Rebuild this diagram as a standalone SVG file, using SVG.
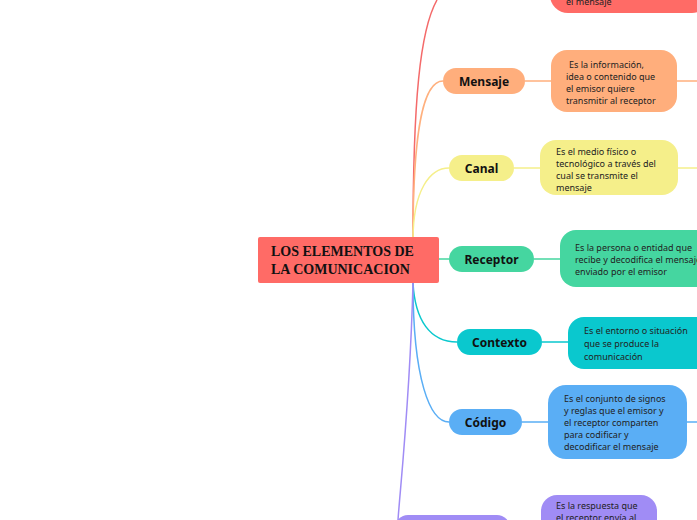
<svg xmlns="http://www.w3.org/2000/svg" width="697" height="520" viewBox="0 0 697 520">
<style>
.l{fill:none;stroke-width:1.5}
.p{font-family:"Noto Sans",sans-serif;font-size:12px;font-weight:bold;fill:#111;text-anchor:middle}
.d{font-family:"Noto Sans",sans-serif;font-size:9px;fill:#222}
</style>
<rect width="697" height="520" fill="#fff"/>
<g id="connectors">
<path class="l" stroke="#F46A6A" d="M413 240 C413 100 420 30 437 0"/>
<path class="l" stroke="#FFB07E" d="M413 240 C413 120 425 81 443 81 M525 81 H551 M677 81 H697"/>
<path class="l" stroke="#F5EF8A" d="M413 240 C413 190 430 168 449 168 M514 168 H540 M678 168 H697"/>
<path class="l" stroke="#45D6A0" d="M439 259 H449 M534 259 H560"/>
<path class="l" stroke="#0AC8CE" d="M413 283 C415 320 430 342 457 342 M542 342 H568"/>
<path class="l" stroke="#5AAEF5" d="M413 283 C413 380 430 422 449 422 M522 422 H548 M687 422 H697"/>
<path class="l" stroke="#A08CF5" d="M413 283 C410 400 400 490 398 520"/>
</g>
<g id="root">
<rect x="258" y="237" width="181" height="46" rx="2" fill="#FF6B66"/>
<text font-family="Liberation Serif,serif" font-weight="bold" font-size="14" fill="#111"><tspan x="271" y="256">LOS ELEMENTOS DE</tspan><tspan x="271" y="274">LA COMUNICACION</tspan></text>
</g>
<g id="emisor-desc">
<rect x="550" y="-40" width="160" height="53" rx="18" fill="#FF6B66"/>
<text class="d" x="566" y="5">el mensaje</text>
</g>
<g id="mensaje">
<rect x="443" y="68" width="82" height="26" rx="13" fill="#FFAE7C"/>
<text class="p" x="484" y="86">Mensaje</text>
</g>
<g id="mensaje-desc">
<rect x="551" y="50" width="126" height="62" rx="16" fill="#FFAE7C"/>
<text class="d"><tspan x="569" y="68">Es la información,</tspan><tspan x="566" y="80">idea o contenido que</tspan><tspan x="566" y="92">el emisor quiere</tspan><tspan x="566" y="104">transmitir al receptor</tspan></text>
</g>
<g id="canal">
<rect x="449" y="155" width="65" height="26" rx="13" fill="#F5EF8A"/>
<text class="p" x="481.5" y="173">Canal</text>
</g>
<g id="canal-desc">
<rect x="540" y="140" width="138" height="55" rx="16" fill="#F5EF8A"/>
<text class="d"><tspan x="556" y="155">Es el medio físico o</tspan><tspan x="556" y="167">tecnológico a través del</tspan><tspan x="556" y="179">cual se transmite el</tspan><tspan x="556" y="191">mensaje</tspan></text>
</g>
<g id="receptor">
<rect x="449" y="246" width="85" height="26" rx="13" fill="#45D6A0"/>
<text class="p" x="491.5" y="264">Receptor</text>
</g>
<g id="receptor-desc">
<rect x="560" y="230" width="160" height="57" rx="16" fill="#45D6A0"/>
<text class="d"><tspan x="575" y="251">Es la persona o entidad que</tspan><tspan x="575" y="263">recibe y decodifica el mensaje</tspan><tspan x="575" y="275">enviado por el emisor</tspan></text>
</g>
<g id="contexto">
<rect x="457" y="329" width="85" height="26" rx="13" fill="#0AC8CE"/>
<text class="p" x="499.5" y="347">Contexto</text>
</g>
<g id="contexto-desc">
<rect x="568" y="317" width="150" height="52" rx="16" fill="#0AC8CE"/>
<text class="d"><tspan x="584" y="334">Es el entorno o situación</tspan><tspan x="584" y="347">que se produce la</tspan><tspan x="584" y="360">comunicación</tspan></text>
</g>
<g id="codigo">
<rect x="449" y="409" width="73" height="26" rx="13" fill="#5AAEF5"/>
<text class="p" x="485.5" y="427">Código</text>
</g>
<g id="codigo-desc">
<rect x="548" y="385" width="139" height="74" rx="18" fill="#5AAEF5"/>
<text class="d"><tspan x="564" y="402">Es el conjunto de signos</tspan><tspan x="564" y="414">y reglas que el emisor y</tspan><tspan x="564" y="426">el receptor comparten</tspan><tspan x="564" y="438">para codificar y</tspan><tspan x="564" y="450">decodificar el mensaje</tspan></text>
</g>
<g id="retro">
<rect x="395" y="515" width="115" height="26" rx="13" fill="#A08CF5"/>
</g>
<g id="retro-desc">
<rect x="541" y="495" width="116" height="60" rx="16" fill="#A08CF5"/>
<text class="d"><tspan x="556" y="509">Es la respuesta que</tspan><tspan x="556" y="521">el receptor envía al</tspan></text>
</g>
</svg>
